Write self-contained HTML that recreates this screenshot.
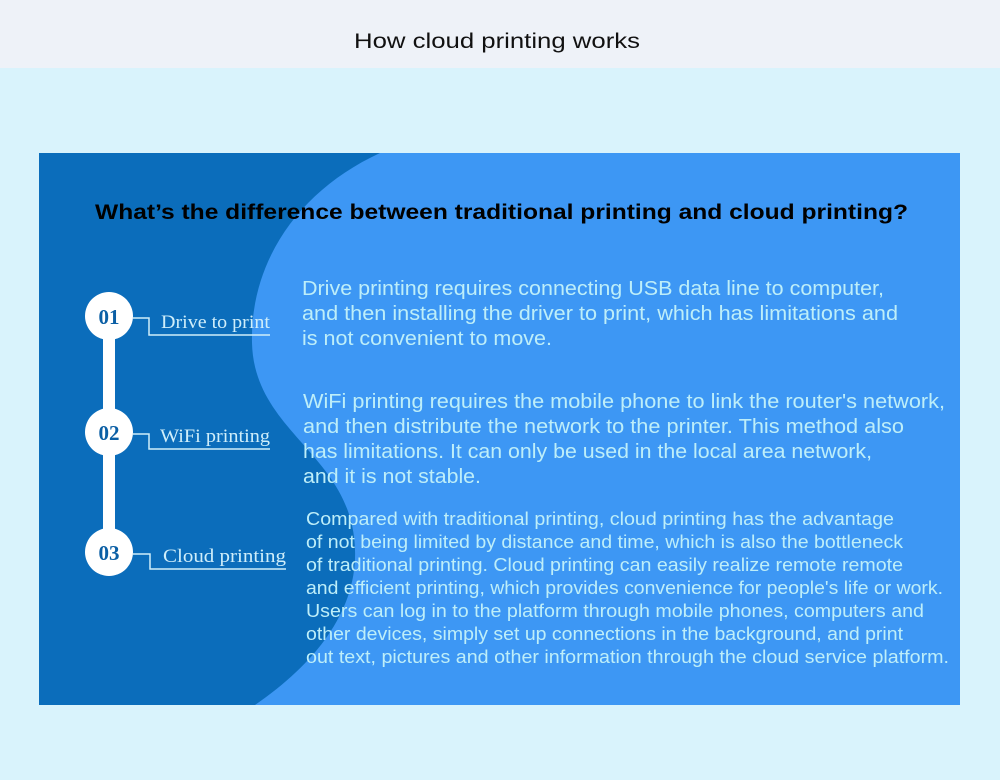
<!DOCTYPE html>
<html><head><meta charset="utf-8"><style>
html,body{margin:0;padding:0;width:1000px;height:780px;overflow:hidden;background:#d9f3fc}
</style></head><body>
<svg width="1000" height="780" viewBox="0 0 1000 780" xmlns="http://www.w3.org/2000/svg" style="display:block">
<rect x="0" y="0" width="1000" height="68" fill="#eef2f8"/>
<rect x="0" y="68" width="1000" height="712" fill="#d9f3fc"/>
<text x="497" y="48" text-anchor="middle" font-family="Liberation Sans, sans-serif" font-size="21" fill="#111" textLength="286" lengthAdjust="spacingAndGlyphs">How cloud printing works</text>
<rect x="39" y="153" width="921" height="552" fill="#3d97f4"/>
<path d="M39,153 L380,153 C300,190 250,260 252,343 C254,425 335,450 352,525 C368,600 320,660 255,705 L39,705 Z" fill="#0b6dbb"/>
<text x="95" y="219" font-family="Liberation Sans, sans-serif" font-weight="bold" font-size="21" fill="#000" textLength="813" lengthAdjust="spacingAndGlyphs">What’s the difference between traditional printing and cloud printing?</text>
<rect x="103" y="316" width="12" height="236" fill="#fff"/>
<g fill="#fff"><circle cx="109" cy="316" r="24"/><circle cx="109" cy="432" r="24"/><circle cx="109" cy="552" r="24"/></g>
<g font-family="Liberation Serif, serif" font-size="21" font-weight="bold" fill="#0b5fa5" text-anchor="middle">
<text x="109" y="324">01</text><text x="109" y="440">02</text><text x="109" y="560">03</text></g>
<g fill="none" stroke="#cfeefa" stroke-width="1.5">
<polyline points="133,318 149,318 149,335 270,335"/>
<polyline points="133,434 149,434 149,449 270,449"/>
<polyline points="133,554 150,554 150,569 286,569"/></g>
<g font-family="Liberation Serif, serif" font-size="19" fill="#cfeefa">
<text x="161" y="328" textLength="109" lengthAdjust="spacingAndGlyphs">Drive to print</text>
<text x="160" y="442" textLength="110" lengthAdjust="spacingAndGlyphs">WiFi printing</text>
<text x="163" y="562" textLength="123" lengthAdjust="spacingAndGlyphs">Cloud printing</text></g>
<g font-family="Liberation Sans, sans-serif" font-size="20" fill="#bdeef9">
<text x="302" y="295" textLength="582" lengthAdjust="spacingAndGlyphs">Drive printing requires connecting USB data line to computer,</text>
<text x="302" y="320" textLength="596" lengthAdjust="spacingAndGlyphs">and then installing the driver to print, which has limitations and</text>
<text x="302" y="345" textLength="250" lengthAdjust="spacingAndGlyphs">is not convenient to move.</text>
<text x="303" y="408" textLength="642" lengthAdjust="spacingAndGlyphs">WiFi printing requires the mobile phone to link the router's network,</text>
<text x="303" y="433" textLength="601" lengthAdjust="spacingAndGlyphs">and then distribute the network to the printer. This method also</text>
<text x="303" y="458" textLength="569" lengthAdjust="spacingAndGlyphs">has limitations. It can only be used in the local area network,</text>
<text x="303" y="483" textLength="178" lengthAdjust="spacingAndGlyphs">and it is not stable.</text>
</g>
<g font-family="Liberation Sans, sans-serif" font-size="18" fill="#bdeef9">
<text x="306" y="525" textLength="588" lengthAdjust="spacingAndGlyphs">Compared with traditional printing, cloud printing has the advantage</text>
<text x="306" y="548" textLength="597" lengthAdjust="spacingAndGlyphs">of not being limited by distance and time, which is also the bottleneck</text>
<text x="306" y="571" textLength="597" lengthAdjust="spacingAndGlyphs">of traditional printing. Cloud printing can easily realize remote remote</text>
<text x="306" y="594" textLength="637" lengthAdjust="spacingAndGlyphs">and efficient printing, which provides convenience for people's life or work.</text>
<text x="306" y="617" textLength="618" lengthAdjust="spacingAndGlyphs">Users can log in to the platform through mobile phones, computers and</text>
<text x="306" y="640" textLength="597" lengthAdjust="spacingAndGlyphs">other devices, simply set up connections in the background, and print</text>
<text x="306" y="663" textLength="643" lengthAdjust="spacingAndGlyphs">out text, pictures and other information through the cloud service platform.</text>
</g>
</svg>
</body></html>
